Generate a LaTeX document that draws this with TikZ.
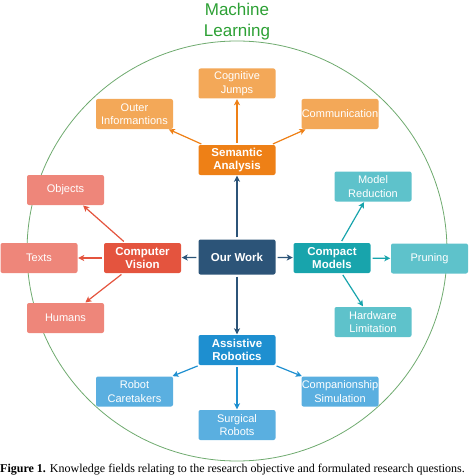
\documentclass[tikz,border=0pt]{standalone}
\usepackage{fontspec}
\setmainfont{Liberation Sans}
\newfontfamily\capfont{Liberation Serif}
\usepackage{xcolor}
\usepackage{tikz}
\usetikzlibrary{arrows.meta}

\definecolor{workblue}{RGB}{44,84,120}
\definecolor{semorange}{RGB}{238,128,22}
\definecolor{semlight}{RGB}{243,168,88}
\definecolor{visred}{RGB}{228,84,62}
\definecolor{vislight}{RGB}{238,134,122}
\definecolor{compteal}{RGB}{24,164,172}
\definecolor{complight}{RGB}{94,194,203}
\definecolor{robblue}{RGB}{30,143,208}
\definecolor{roblight}{RGB}{90,175,224}
\definecolor{mlgreen}{RGB}{44,160,52}
\definecolor{ringgreen}{RGB}{110,170,110}

\tikzset{
  field/.style={rounded corners=2pt, minimum width=77pt, minimum height=30pt,
    inner sep=0pt, align=center, text=white,
    font=\fontsize{11.5}{13}\selectfont\bfseries},
  topic/.style={rounded corners=2pt, minimum width=77pt, minimum height=30pt,
    inner sep=0pt, align=center, text=white,
    font=\fontsize{11}{13.5}\selectfont},
  link/.style={-{Stealth[length=6pt,width=6pt,inset=1.5pt]},line width=1.2pt,shorten <=2pt,shorten >=0.5pt}
}

\begin{document}
\begin{tikzpicture}[x=1pt,y=-1pt]
		\useasboundingbox (0,0) rectangle (474,476);
		% machine learning ring
		\draw[ringgreen,line width=0.8pt] (237,251) circle[radius=210pt];
		\node[text=mlgreen,align=center,font=\fontsize{17}{21}\selectfont] (ML) at (237,22) {Machine\\Learning};
		%
		\node[field,fill=workblue,minimum height=35pt] (W) at (237,257) {Our Work};
		\node[field,fill=semorange] (S) at (237,160) {Semantic\\Analysis};
		\node[field,fill=visred] (V) at (142.5,258) {Computer\\Vision};
		\node[field,fill=compteal] (C) at (332,258) {Compact\\Models};
		\node[field,fill=robblue] (R) at (237,350) {Assistive\\Robotics};
		%
		\node[topic,fill=semlight] (S1) at (134.5,114) {Outer\\Informantions};
		\node[topic,fill=semlight] (S2) at (237,83.5) {Cognitive\\Jumps};
		\node[topic,fill=semlight] (S3) at (340,114) {Communication};
		\node[topic,fill=vislight] (V1) at (65.5,190) {Objects};
		\node[topic,fill=vislight] (V2) at (39,258) {Texts};
		\node[topic,fill=vislight] (V3) at (65.5,318) {Humans};
		\node[topic,fill=complight] (C1) at (373,186.5) {Model\\Reduction};
		\node[topic,fill=complight] (C2) at (429.5,258.5) {Pruning};
		\node[topic,fill=complight] (C3) at (373,322) {Hardware\\Limitation};
		\node[topic,fill=roblight] (R1) at (134.5,391.5) {Robot\\Caretakers};
		\node[topic,fill=roblight] (R2) at (237,425) {Surgical\\Robots};
		\node[topic,fill=roblight] (R3) at (340,391.5) {Companionship\\Simulation};
		%
		\node[anchor=west,inner sep=0pt,font=\capfont\fontsize{12}{14}\selectfont] (cap) at (0,470)
			{\textbf{Figure 1.} Knowledge fields relating to the research objective and formulated research questions.};
		%
		% from our work
		\path[link,workblue]
		(W) edge (S)
		(W) edge (V)
		(W) edge (C)
		(W) edge (R);
		% semantic analysis
		\path[link,semorange]
		(S) edge (S1)
		(S) edge (S2)
		(S) edge (S3);
		% computer vision
		\path[link,visred]
		(V) edge (V1)
		(V) edge (V2)
		(V) edge (V3);
		% compact models
		\path[link,compteal]
		(C) edge (C1)
		(C) edge (C2)
		(C) edge (C3);
		% assistive robotics
		\path[link,robblue]
		(R) edge (R1)
		(R) edge (R2)
		(R) edge (R3);
\end{tikzpicture}
\end{document}
